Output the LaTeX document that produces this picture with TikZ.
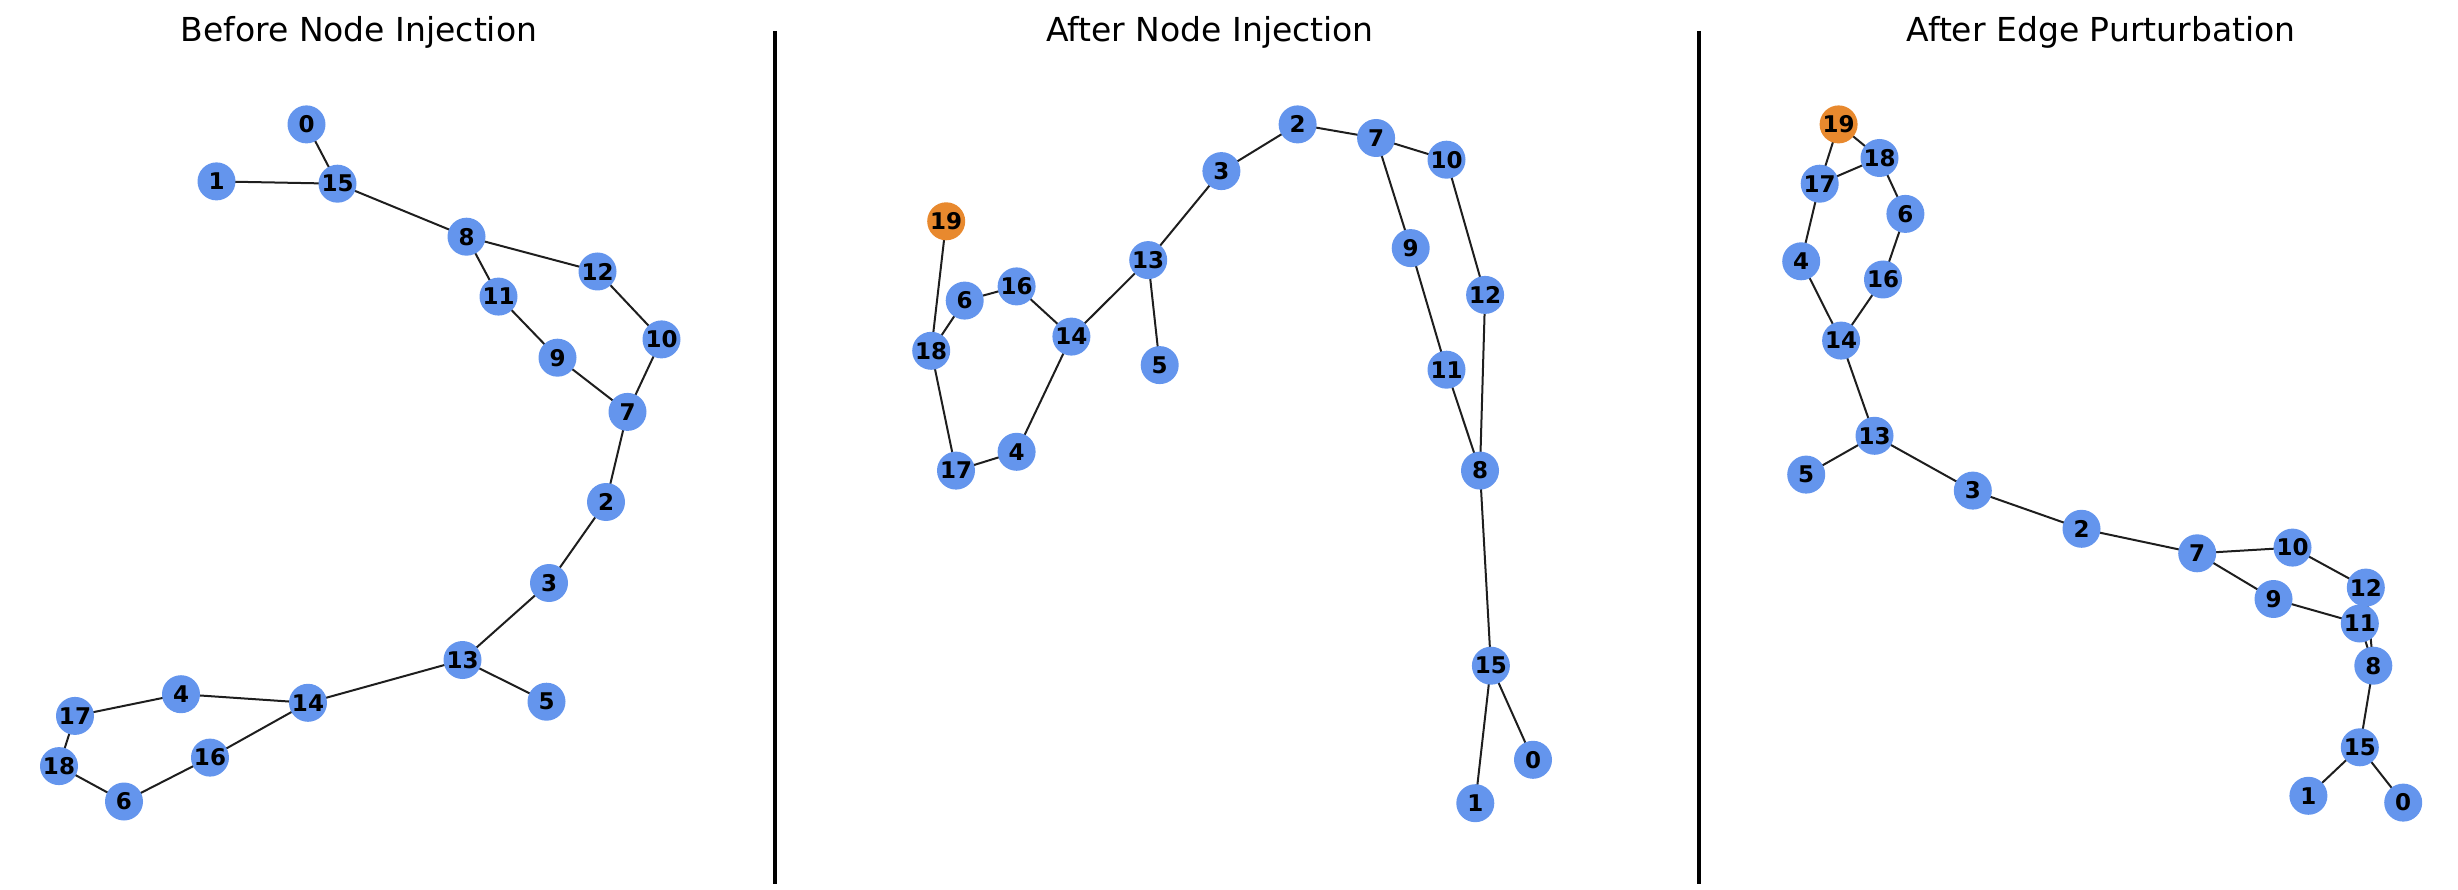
\documentclass[tikz,border=0pt]{standalone}
\usepackage{fontspec}
\setmainfont{DejaVu Sans}
\usetikzlibrary{backgrounds}
\definecolor{nblue}{RGB}{100,149,237}
\definecolor{norange}{RGB}{232,137,46}
\definecolor{edgec}{RGB}{30,30,30}
\begin{document}
\begin{tikzpicture}[x=1pt,y=-1pt,
  gnode/.style={circle,fill=nblue,minimum size=38pt,inner sep=0pt,text=black,
    font=\bfseries\fontsize{23}{23}\selectfont},
  newnode/.style={gnode,fill=norange},
  edge/.style={draw=edgec,line width=2pt},
  divider/.style={draw=black,line width=4.5pt},
  ttl/.style={font=\fontsize{33}{33}\selectfont,text=black,inner sep=0pt,anchor=base}]
\useasboundingbox (0,0) rectangle (2458,890);
% titles
\node[ttl] (t1) at (359,42) {Before Node Injection};
\node[ttl] (t2) at (1210,42) {After Node Injection};
\node[ttl] (t3) at (2101,42) {After Edge Purturbation};
% dividers
\coordinate (d1a) at (775,31); \coordinate (d1b) at (775,884);
\coordinate (d2a) at (1699,31); \coordinate (d2b) at (1699,884);
\draw[divider] (d1a) -- (d1b);
\draw[divider] (d2a) -- (d2b);
% panel 1
\node[gnode] (a0) at (306.5,124.4) {0};
\node[gnode] (a1) at (216.5,181.4) {1};
\node[gnode] (a15) at (337.5,183.7) {15};
\node[gnode] (a8) at (466.5,236.7) {8};
\node[gnode] (a12) at (597.5,271.5) {12};
\node[gnode] (a11) at (498.5,296.6) {11};
\node[gnode] (a10) at (661.5,339.4) {10};
\node[gnode] (a9) at (557.5,357.7) {9};
\node[gnode] (a7) at (627.5,411.9) {7};
\node[gnode] (a2) at (606,502) {2};
\node[gnode] (a3) at (549,583) {3};
\node[gnode] (a13) at (462.5,660) {13};
\node[gnode] (a5) at (546.5,701.7) {5};
\node[gnode] (a14) at (308,702.8) {14};
\node[gnode] (a4) at (181,694.2) {4};
\node[gnode] (a17) at (75,715.9) {17};
\node[gnode] (a18) at (59,766.1) {18};
\node[gnode] (a16) at (210,757.6) {16};
\node[gnode] (a6) at (124,801.5) {6};
% panel 2
\node[gnode] (b2) at (1297.6,124.4) {2};
\node[gnode] (b7) at (1376.1,138.0) {7};
\node[gnode] (b10) at (1446.5,159.7) {10};
\node[gnode] (b3) at (1221.4,171.1) {3};
\node[newnode] (b19) at (946.2,221.3) {19};
\node[gnode] (b13) at (1148.2,260.1) {13};
\node[gnode] (b9) at (1410.7,248.1) {9};
\node[gnode] (b12) at (1485.1,294.9) {12};
\node[gnode] (b16) at (1016.6,286.4) {16};
\node[gnode] (b6) at (964.7,300.6) {6};
\node[gnode] (b14) at (1071.4,336.6) {14};
\node[gnode] (b18) at (931.2,350.8) {18};
\node[gnode] (b5) at (1159.7,365.1) {5};
\node[gnode] (b11) at (1446.5,369.7) {11};
\node[gnode] (b4) at (1016.6,451.8) {4};
\node[gnode] (b17) at (956,470.6) {17};
\node[gnode] (b8) at (1480,470.6) {8};
\node[gnode] (b15) at (1490.9,665.7) {15};
\node[gnode] (b0) at (1533,759.8) {0};
\node[gnode] (b1) at (1475.3,803.2) {1};
% panel 3
\node[newnode] (c19) at (1838.6,124.4) {19};
\node[gnode] (c18) at (1879.5,158) {18};
\node[gnode] (c17) at (1819.7,183.7) {17};
\node[gnode] (c6) at (1905.4,213.9) {6};
\node[gnode] (c4) at (1801.2,261.3) {4};
\node[gnode] (c16) at (1883,279.5) {16};
\node[gnode] (c14) at (1841.1,340.6) {14};
\node[gnode] (c13) at (1874.5,435.8) {13};
\node[gnode] (c5) at (1806.2,474.6) {5};
\node[gnode] (c3) at (1972.8,490.6) {3};
\node[gnode] (c2) at (2081.5,528.8) {2};
\node[gnode] (c7) at (2197.2,553.3) {7};
\node[gnode] (c10) at (2292.5,547.6) {10};
\node[gnode] (c12) at (2365.8,587.6) {12};
\node[gnode] (c9) at (2273.5,599) {9};
\node[gnode] (c11) at (2359.8,623.5) {11};
\node[gnode] (c8) at (2373.3,665.7) {8};
\node[gnode] (c15) at (2359.8,747.3) {15};
\node[gnode] (c1) at (2308.4,795.8) {1};
\node[gnode] (c0) at (2403.2,802.6) {0};
\begin{scope}[on background layer]
% panel 1 edges
\foreach \u/\v in {0/15,1/15,15/8,8/12,8/11,11/9,9/7,12/10,10/7,7/2,2/3,3/13,13/5,13/14,14/4,4/17,17/18,18/6,6/16,16/14}
  \draw[edge] (a\u.center) -- (a\v.center);
% panel 2 edges
\foreach \u/\v in {2/3,2/7,7/10,7/9,3/13,19/18,6/16,6/18,16/14,13/14,13/5,18/17,17/4,4/14,9/11,10/12,12/8,11/8,8/15,15/0,15/1}
  \draw[edge] (b\u.center) -- (b\v.center);
% panel 3 edges
\foreach \u/\v in {19/18,19/17,17/18,18/6,17/4,6/16,16/14,4/14,14/13,13/5,13/3,3/2,2/7,7/10,7/9,10/12,9/11,11/8,12/8,8/15,15/1,15/0}
  \draw[edge] (c\u.center) -- (c\v.center);
\end{scope}
\end{tikzpicture}
\end{document}
